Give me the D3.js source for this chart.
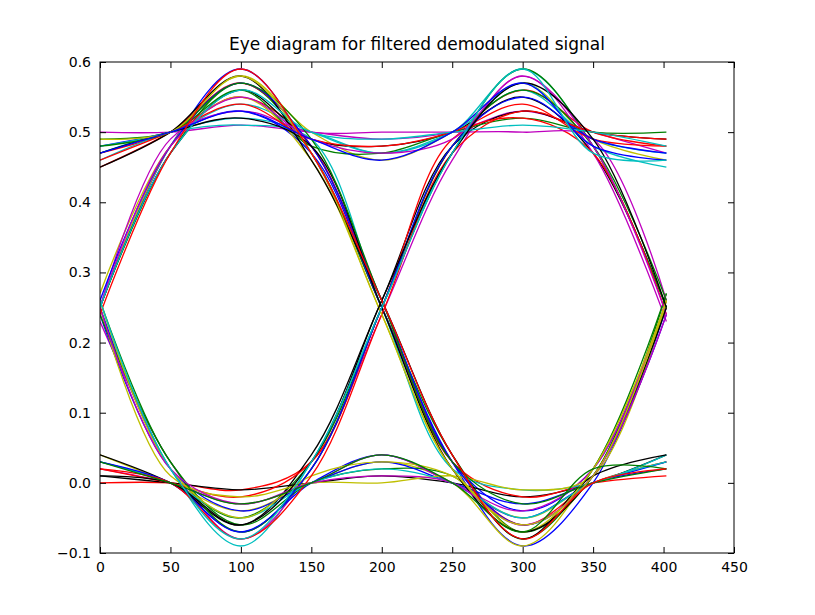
<!DOCTYPE html>
<html><head><meta charset="utf-8">
<script src="https://cdn.jsdelivr.net/npm/d3@7"></script>
<style>body{margin:0;background:#fff}text{font-family:"DejaVu Sans",sans-serif}</style>
</head><body><svg id="c" width="815" height="615"></svg>
<script>
// sample positions of every trace (samples along the symbol period)
const samplePos = [0, 50, 100, 150, 200, 250, 300, 350, 402];
// traces: value at each sample position
const traces = [
  [0.25, 0.48, 0.59, 0.47, 0.25, 0.03, -0.09, 0.00, 0.25],
  [0.25, 0.47, 0.57, 0.47, 0.25, 0.04, -0.07, 0.01, 0.27],
  [0.47, 0.50, 0.55, 0.48, 0.25, 0.03, -0.06, 0.00, 0.03],
  [0.46, 0.50, 0.52, 0.50, 0.47, 0.50, 0.59, 0.48, 0.25],
  [0.50, 0.50, 0.51, 0.50, 0.49, 0.50, 0.53, 0.50, 0.47],
  [0.25, 0.48, 0.58, 0.50, 0.46, 0.50, 0.57, 0.49, 0.46],
  [0.25, 0.47, 0.56, 0.49, 0.48, 0.50, 0.55, 0.47, 0.25],
  [0.48, 0.50, 0.53, 0.47, 0.25, 0.03, -0.04, 0.02, 0.26],
  [0.03, 0.00, -0.05, 0.03, 0.25, 0.47, 0.59, 0.48, 0.25],
  [0.00, 0.00, -0.01, 0.03, 0.25, 0.48, 0.56, 0.50, 0.48],
  [0.25, 0.02, -0.09, 0.03, 0.25, 0.47, 0.57, 0.48, 0.45],
  [0.23, 0.03, -0.08, 0.02, 0.24, 0.46, 0.58, 0.47, 0.23],
  [0.04, 0.00, -0.04, 0.00, 0.03, 0.00, -0.09, 0.02, 0.25],
  [0.01, 0.00, -0.01, 0.00, 0.01, 0.00, -0.02, 0.00, 0.04],
  [0.25, 0.02, -0.07, 0.00, 0.04, 0.00, -0.05, 0.00, 0.02],
  [0.26, 0.03, -0.06, 0.00, 0.02, 0.01, -0.08, 0.02, 0.27],
  [0.45, 0.50, 0.57, 0.48, 0.26, 0.03, -0.02, 0.00, 0.01],
  [0.48, 0.50, 0.54, 0.50, 0.47, 0.50, 0.56, 0.49, 0.47],
  [0.02, 0.00, -0.03, 0.00, 0.04, 0.00, -0.04, 0.02, 0.26],
  [0.27, 0.48, 0.55, 0.46, 0.24, 0.02, -0.05, 0.00, 0.03],
  [0.04, 0.00, -0.06, 0.04, 0.26, 0.48, 0.53, 0.50, 0.49],
  [0.24, 0.02, -0.04, 0.00, 0.03, 0.00, -0.03, 0.00, 0.03],
  [0.49, 0.50, 0.56, 0.48, 0.47, 0.50, 0.52, 0.50, 0.50],
  [0.02, 0.00, -0.02, 0.03, 0.25, 0.49, 0.52, 0.47, 0.24],
  [0.47, 0.50, 0.51, 0.49, 0.25, 0.02, -0.01, 0.00, 0.04],
  [0.25, 0.49, 0.53, 0.50, 0.50, 0.50, 0.50, 0.49, 0.26],
  [0.25, 0.01, -0.02, 0.00, 0.00, 0.01, -0.01, 0.01, 0.26],
  [0.45, 0.50, 0.58, 0.46, 0.26, 0.04, -0.08, 0.01, 0.04],
  [0.26, 0.48, 0.57, 0.48, 0.26, 0.03, -0.06, 0.01, 0.24],
  [0.24, 0.03, -0.07, 0.02, 0.25, 0.48, 0.56, 0.48, 0.26],
  [0.46, 0.50, 0.54, 0.49, 0.48, 0.50, 0.54, 0.49, 0.48],
  [0.03, 0.00, -0.05, 0.00, 0.02, 0.00, -0.05, 0.00, 0.03],
  [0.25, 0.48, 0.55, 0.49, 0.47, 0.49, 0.58, 0.48, 0.24],
  [0.26, 0.02, -0.05, 0.01, 0.03, 0.01, -0.07, 0.02, 0.26],
  [0.47, 0.50, 0.52, 0.48, 0.25, 0.02, -0.07, 0.01, 0.25],
  [0.03, 0.00, -0.07, 0.02, 0.25, 0.48, 0.55, 0.49, 0.47],
  [0.48, 0.50, 0.57, 0.49, 0.26, 0.03, -0.03, 0.00, 0.02],
  [0.02, 0.00, -0.08, 0.01, 0.24, 0.47, 0.53, 0.50, 0.49],
  [0.25, 0.47, 0.56, 0.50, 0.49, 0.50, 0.51, 0.50, 0.48],
  [0.25, 0.02, -0.03, 0.00, 0.01, 0.00, -0.06, 0.01, 0.24],
  [0.49, 0.50, 0.58, 0.47, 0.24, 0.02, -0.06, 0.01, 0.26],
  [0.01, 0.00, -0.06, 0.03, 0.26, 0.47, 0.57, 0.49, 0.25],
  [0.47, 0.50, 0.53, 0.49, 0.46, 0.50, 0.57, 0.48, 0.46],
  [0.03, 0.00, -0.03, 0.00, 0.04, 0.00, -0.07, 0.02, 0.02],
  [0.24, 0.47, 0.59, 0.47, 0.26, 0.04, -0.08, 0.00, 0.02],
  [0.26, 0.02, -0.08, 0.03, 0.25, 0.47, 0.59, 0.47, 0.46]
];
const palette = ['#0000ff', '#008000', '#ff0000', '#00bfbf', '#bf00bf', '#bfbf00', '#000000'];
const xTicks = [0, 50, 100, 150, 200, 250, 300, 350, 400, 450];
const yTicks = [-0.1, 0.0, 0.1, 0.2, 0.3, 0.4, 0.5, 0.6];

const m = {l: 100, t: 62, r: 81, b: 62};
const W = 815 - m.l - m.r, H = 615 - m.t - m.b;
const svg = d3.select('#c');
const g = svg.append('g').attr('transform', `translate(${m.l},${m.t})`);
const x = d3.scaleLinear().domain([0, 450]).range([0, W]);
const y = d3.scaleLinear().domain([-0.1, 0.6]).range([H, 0]);

g.append('clipPath').attr('id', 'clip').append('rect').attr('width', W).attr('height', H);
const line = d3.line().x((d, i) => x(samplePos[i])).y(d => y(d)).curve(d3.curveCatmullRom.alpha(0.5));
g.append('g').attr('clip-path', 'url(#clip)').selectAll('path').data(traces).enter().append('path')
  .attr('d', line).attr('fill', 'none').attr('stroke-width', 1.3)
  .attr('stroke', (d, i) => palette[i % palette.length]);

const fmtY = d => d < 0 ? '\u2212' + Math.abs(d).toFixed(1) : d.toFixed(1);
const ax = (a, tr) => g.append('g').attr('transform', tr).call(a)
  .call(s => s.select('.domain').remove())
  .call(s => s.selectAll('text').attr('font-size', 14).attr('font-family', 'DejaVu Sans').attr('fill', '#000'));
ax(d3.axisBottom(x).tickValues(xTicks).tickSize(-6).tickPadding(9), `translate(0,${H})`);
ax(d3.axisTop(x).tickValues(xTicks).tickSize(-6).tickFormat(''), 'translate(0,0)');
ax(d3.axisLeft(y).tickValues(yTicks).tickSize(-6).tickPadding(9).tickFormat(fmtY), 'translate(0,0)');
ax(d3.axisRight(y).tickValues(yTicks).tickSize(-6).tickFormat(''), `translate(${W},0)`);
g.append('rect').attr('width', W).attr('height', H).attr('fill', 'none').attr('stroke', '#000');

svg.append('text').attr('x', m.l + W / 2).attr('y', 50).attr('text-anchor', 'middle')
  .attr('font-size', 17).text('Eye diagram for filtered demodulated signal');
</script></body></html>
